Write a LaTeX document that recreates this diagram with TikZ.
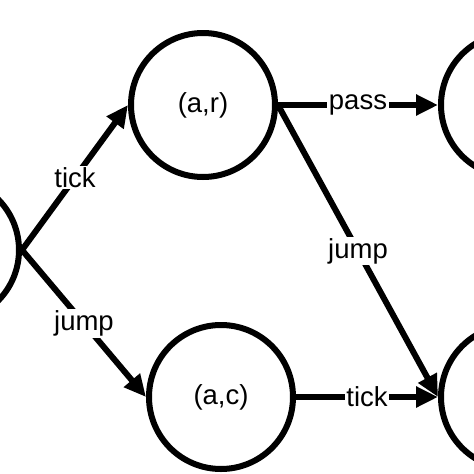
\documentclass[tikz,border=0pt]{standalone}
\usepackage{fontspec}
\setmainfont{Liberation Sans}
\usetikzlibrary{arrows.meta}
\begin{document}
\begin{tikzpicture}[x=1pt,y=-1pt,
  state/.style={circle,draw,line width=6pt,minimum size=144pt,inner sep=0pt,font=\fontsize{27.5}{31}\selectfont},
  edge/.style={line width=6pt,-{Triangle[length=22pt,width=20pt]}},
  lbl/.style={fill=white,inner sep=1.5pt,font=\fontsize{27.5}{31}\selectfont}]
\useasboundingbox (0,0) rectangle (474,474);
\node[state] (L) at (-53,250) {};
\node[state] (AR) at (203,105) {(a,r)};
\node[state] (AC) at (221,397) {(a,c)};
\node[state] (RT) at (513,105) {};
\node[state] (RB) at (513,397) {};
\draw[edge] (L.east) -- node[lbl]{tick} (AR.west);
\draw[edge] (L.east) -- node[lbl]{jump} (AC.west);
\draw[edge] (AR.east) -- node[lbl]{pass} (RT.west);
\draw[edge] (AR.east) -- node[lbl]{jump} (RB.west);
\draw[edge] (AC.east) -- node[lbl]{tick} (RB.west);
\end{tikzpicture}
\end{document}
